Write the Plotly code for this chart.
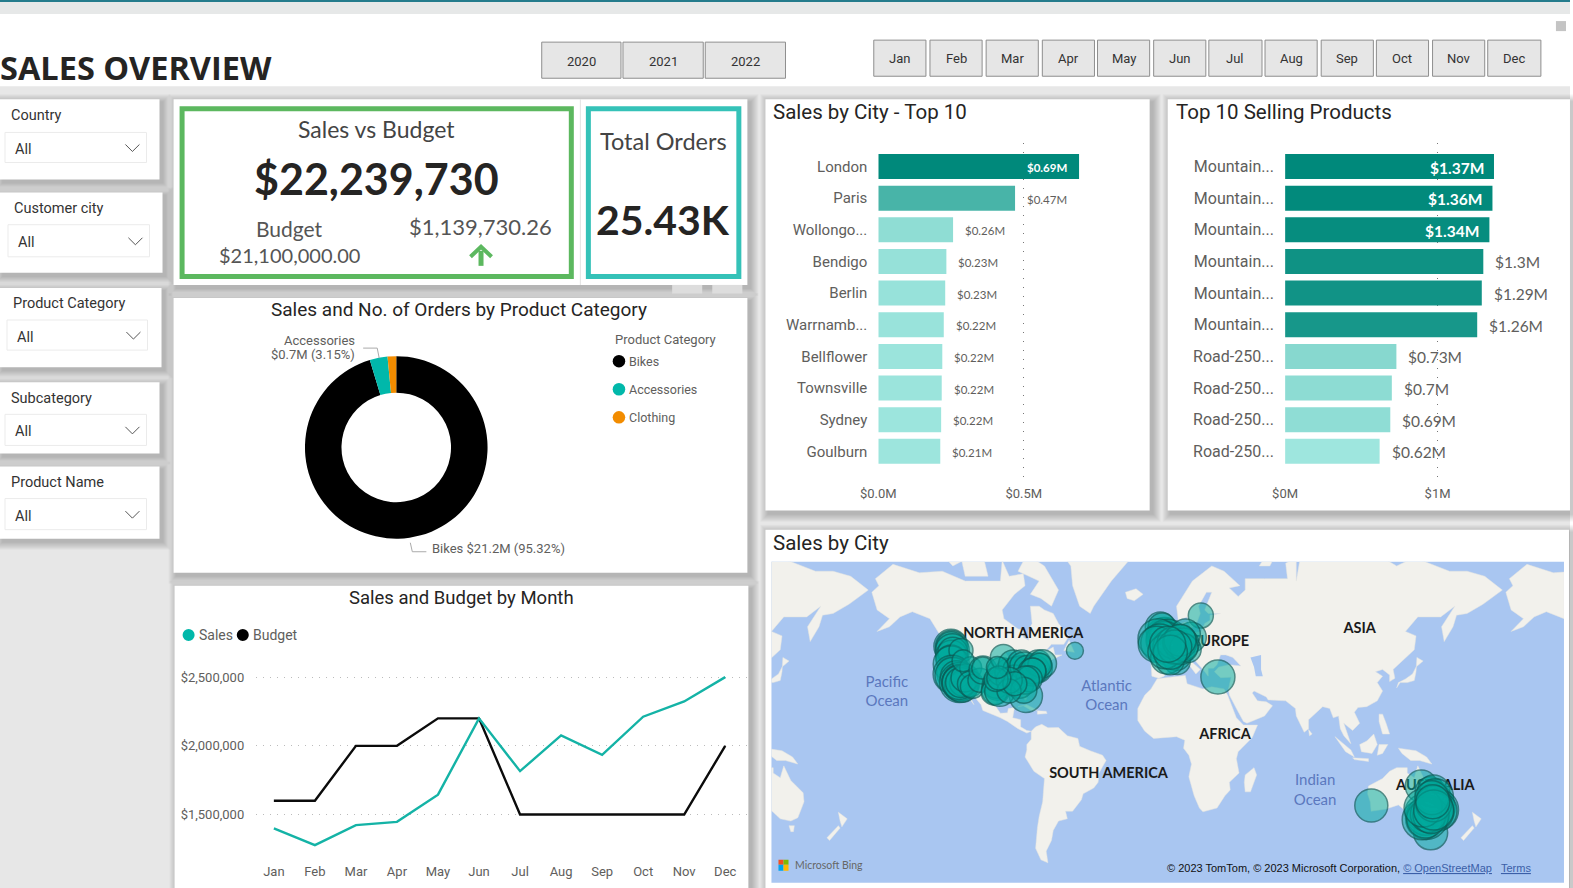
import numpy as np
import plotly.graph_objects as go

W, H = 1573, 888
K = 1573 / 1568

# data
years = ["2020", "2021", "2022"]
months = ["Jan", "Feb", "Mar", "Apr", "May", "Jun", "Jul", "Aug", "Sep", "Oct", "Nov", "Dec"]
slicers = ["Country", "Customer city", "Product Category", "Subcategory", "Product Name"]

city_names = ["London", "Paris", "Wollongo...", "Bendigo", "Berlin", "Warrnamb...", "Bellflower", "Townsville", "Sydney", "Goulburn"]
city_sales = [0.69, 0.47, 0.257, 0.234, 0.23, 0.225, 0.22, 0.218, 0.216, 0.213]
city_labels = ["$0.69M", "$0.47M", "$0.26M", "$0.23M", "$0.23M", "$0.22M", "$0.22M", "$0.22M", "$0.22M", "$0.21M"]

product_names = ["Mountain..."] * 6 + ["Road-250..."] * 4
product_sales = [1.37, 1.36, 1.34, 1.30, 1.29, 1.26, 0.73, 0.70, 0.69, 0.62]
product_labels = ["$1.37M", "$1.36M", "$1.34M", "$1.3M", "$1.29M", "$1.26M", "$0.73M", "$0.7M", "$0.69M", "$0.62M"]

category_names = ["Bikes", "Accessories", "Clothing"]
category_sales = [21.2, 0.7, 0.34]

sales_month = [1.40e6, 1.278e6, 1.423e6, 1.447e6, 1.645e6, 2.2e6, 1.816e6, 2.076e6, 1.934e6, 2.212e6, 2.323e6, 2.5e6]
budget_month = [1.6e6, 1.6e6, 2.0e6, 2.0e6, 2.2e6, 2.2e6, 1.5e6, 1.5e6, 1.5e6, 1.5e6, 1.5e6, 2.0e6]

# map bubbles: lon, lat, weight
map_lon = [28.5, 18.8, -52.7, 115.6, 149.3, -80.5, 144.0,
           -123.1, -122.8, -122.9, -122.3, -122.7, -122.0, -123.0, -122.9, -117.4, -121.5, -122.4, -121.9, -120.0, -119.0,
           -119.7, -118.2, -118.1, -117.9, -117.1, -116.5, -118.4, -117.6, -115.1, -111.9, -112.0, -110.9, -116.2, -106.6, -104.9,
           -105.0, -96.8, -97.3, -97.7, -98.5, -95.4, -94.6, -90.2, -93.3, -87.6, -86.2, -83.0, -83.1, -84.4, -86.8, -81.7,
           -80.0, -75.2, -74.0, -73.8, -71.1, -72.7, -77.0, -76.6, -78.6, -80.8, -81.7, -90.0, -90.1, -86.8, -97.5, -95.9, -96.7,
           -3.0, -2.2, -1.5, -4.2, -3.2, -1.9, -3.2, -0.1, 1.0, -1.5, -5.5, -4.5, -6.5, 2.35, 5.4, 4.8, -0.6, 1.4, -1.6, 7.3, 3.1, 13.4, 10.0, 11.6, 8.7, 6.9, 9.2, 7.0, 4.0, 1.5, 0.0,
           149.0, 150.5, 151.5, 152.5, 153.0, 151.0, 145.0, 152.0, 153.2, 152.9, 151.7, 147.0, 146.3, 144.5, 146.4, 148.0, 149.5, 145.0, 151.0, 150.0, 151.0, 150.5]
map_lat = [36.6, 59.4, 47.6, -31.8, -44.0, 27.5, -22.0,
           49.3, 49.2, 49.1, 47.6, 45.5, 47.0, 44.0, 42.3, 47.7, 38.5, 37.8, 37.3, 36.7, 35.4,
           34.4, 34.0, 33.9, 33.8, 32.7, 33.8, 34.1, 34.1, 36.2, 40.7, 33.4, 32.2, 43.6, 35.1, 39.7,
           40.6, 32.8, 32.7, 30.3, 29.4, 29.8, 39.1, 38.6, 45.0, 41.9, 39.8, 40.0, 42.3, 33.7, 36.2, 41.5,
           40.4, 40.0, 40.7, 42.7, 42.4, 41.8, 38.9, 39.3, 35.8, 35.2, 30.3, 35.1, 30.0, 33.5, 35.5, 36.1, 40.8,
           53.5, 53.5, 53.8, 55.9, 55.9, 52.5, 51.5, 51.5, 51.0, 52.4, 52.0, 50.5, 50.0, 48.86, 43.3, 45.8, 44.8, 43.6, 47.2, 47.7, 50.6, 52.5, 53.6, 48.1, 50.1, 50.9, 48.8, 51.5, 49.0, 47.0, 50.0,
           -25.0, -27.0, -29.0, -31.0, -33.0, -24.5, -35.0, -27.5, -33.9, -34.4, -34.8, -37.8, -36.8, -38.4, -38.1, -36.0, -36.5, -33.0, -31.0, -28.0, -34.0, -30.0]
map_weight = [34, 25, 17, 33, 34, 33, 32,
              34, 32, 30, 34, 32, 30, 30, 36, 24, 34, 38, 36, 32, 30,
              28, 40, 36, 36, 34, 26, 34, 30, 28, 22, 26, 24, 22, 24, 28,
              22, 30, 26, 28, 26, 30, 28, 28, 26, 30, 26, 28, 28, 30, 26, 28,
              26, 28, 30, 26, 28, 24, 28, 26, 26, 28, 26, 26, 24, 24, 24, 24, 22,
              32, 34, 32, 30, 28, 34, 32, 42, 30, 32, 40, 38, 36, 38, 26, 30, 32, 28, 34, 28, 32, 30, 30, 26, 32, 34, 28, 32, 34, 34, 36,
              30, 32, 34, 36, 36, 32, 36, 36, 42, 40, 38, 42, 38, 40, 38, 36, 36, 38, 36, 34, 40, 34]

map_text = ["NORTH AMERICA", "EUROPE", "ASIA", "AFRICA", "SOUTH AMERICA", "AUSTRALIA"]
map_text_lon = [-82, 30, 109, 32.5, -33.6, 152]
map_text_lat = [53.6, 50.8, 55.3, 6.2, -15.8, -22.4]
ocean_text = ["Pacific<br>Ocean", "Atlantic<br>Ocean", "Indian<br>Ocean"]
ocean_text_lon = [-159.5, -34.7, 83.7]
ocean_text_lat = [29, 27, -24.6]

# coarse coastlines, lon/lat
land = [
    [(-168,65.5),(-164,67),(-166,68.5),(-156,71.3),(-141,69.7),(-128,70),(-115,68),(-108,68),(-95,68),(-94,72),(-90,69),(-82,69.5),(-81,67),(-87,65),(-94,61),(-93,58.5),(-85,55.3),(-82,55),(-82,52.5),(-79,51.5),(-79,55),(-77,57),(-78,62),(-73,62),(-70,61),(-65,60),(-62,57),(-56,53),(-59,50),(-66,50),(-70,47),(-65,49),(-64,46),(-60,46),(-66,44),(-70,43.5),(-70,41.5),(-74,40.5),(-76,37),(-76,35),(-81,31.5),(-80,26),(-81,25.2),(-83,29),(-89,30),(-94,29.5),(-97.5,27),(-97.5,22),(-95,18.5),(-91,18.7),(-90.5,21),(-87,21.5),(-88,16),(-83.5,15),(-83.5,11),(-80,9),(-77.5,8.5),(-80,7.5),(-85,10),(-91,14),(-95,16),(-105,20),(-106,23),(-112,29.5),(-114.5,31),(-110,23),(-115,29),(-117.5,33),(-120.5,34.5),(-124,40),(-124.5,48),(-130,54),(-135,58.5),(-145,60.5),(-152,59),(-158,56),(-165,54.5),(-158,58.5),(-165,61)],
    [(-73,78),(-60,82),(-30,83),(-20,80),(-22,72),(-32,68),(-42,62),(-44,60),(-50,62),(-54,67),(-55,71),(-68,76)],
    [(-80,73),(-70,71),(-62,66),(-66,62),(-72,64),(-78,65),(-73,68),(-85,70)],
    [(-117,72),(-105,73),(-102,69),(-115,69)],
    [(-125,72),(-118,74),(-116,72),(-122,71)],
    [(-59,47.7),(-56,51.5),(-53,47)],
    [(-85,22),(-80,23),(-74.2,20.2),(-77.5,20),(-82,22.5)],
    [(-74,19.8),(-69,19.5),(-68.5,18.3),(-74,18)],
    [(-24,65.5),(-18,66.3),(-14,65),(-19,63.4),(-23,64)],
    [(-77.5,8.5),(-75,11),(-71.5,12.4),(-68,10.5),(-62,10.6),(-57,6),(-51,4.5),(-50,0),(-44,-2.5),(-37,-5),(-35,-8),(-39,-15),(-39.5,-20),(-42,-23),(-48,-26),(-49,-29),(-54,-34.5),(-58,-34.5),(-57,-38),(-62,-39),(-65,-43),(-66,-47),(-69,-51),(-68,-55),(-72,-54),(-75,-50),(-74,-42),(-73,-37),(-71,-30),(-70,-18),(-76,-14),(-81,-6),(-80,-2),(-80,1),(-77.5,4)],
    [(-6,35.8),(10,37.3),(11,33.5),(20,31),(25,32),(32,31),(34,28),(37,21),(39,16),(43,12),(51,12),(48,5),(40,-3),(39,-7),(40.5,-15),(35,-20),(35.5,-24),(32.5,-27),(28,-33),(20,-34.8),(18,-33),(15,-27),(12,-17),(13.5,-10),(12,-5),(9,-1),(9.7,3.5),(5,5.5),(-4,5),(-8,4.5),(-13,8.5),(-17,14.5),(-17,21),(-13,28),(-9.5,31)],
    [(49,-12),(50.5,-16),(47,-25),(44,-25),(43.5,-20),(44,-16)],
    [(-9,37),(-9.5,43),(-2,43.5),(-1,46),(-5,48.5),(1,50.5),(4,52),(8,54),(8,57),(10.5,57.5),(10,54),(14,54),(19,54.5),(21,57),(24,58),(24,59.5),(30,60),(23,60),(21,61),(25,65.5),(22,65.5),(17.5,62),(18.5,60),(16,56.5),(13,55.5),(11,59),(6,58),(5,62),(14,68),(25,71),(32,70),(41,67),(35,66.5),(40,64.5),(44,66),(44,68.5),(55,68.5),(68,68.5),(67,71.5),(73,72.5),(73,68),(75,72),(85,73),(100,76.5),(113,74),(130,71),(140,72.5),(160,70),(170,70),(180,69),(190,66),(185,64.5),(179,62.5),(170,60),(164,59.5),(162,56),(157,51),(155.5,56),(163,62),(155,59),(142,59),(135,54.5),(141,53),(140,48),(132,43),(128,40),(129,36),(126,34.5),(126,37.5),(122,40),(118,39),(122,37),(119,34),(122,30),(119,25),(113,22),(108,21.5),(106,19),(109,13),(105,9),(100,13),(103,5),(104,1.5),(100,6),(98,10),(97,17),(94,16),(92,21),(88,22),(80,15),(80,10),(77.5,8),(73,17),(72.5,21),(67,25),(57,25.5),(56,27),(49,30),(48,29),(51,25),(56,24.5),(59.5,22.5),(55,17),(45,13),(43,14),(39,21),(35,28),(34.5,31),(36,36.5),(30,36.3),(26.5,39),(29,41),(35,42),(41.5,41.5),(37,45),(33,46),(30,46),(28,42),(26,40.5),(23,40.5),(23,37),(20,40),(14,45),(12.5,44),(18.5,40),(16,38),(12,42),(8.5,44.3),(3.5,43),(0,39.5),(-2,37),(-5,36)],
    [(-5.5,50),(1.5,51.3),(1.5,53),(-2,56),(-3,58.5),(-6,58),(-5,54.5),(-3,53.5),(-5,52)],
    [(-10,52),(-6,52),(-6,55),(-9,54.5)],
    [(130,31.5),(132,34),(136,34),(140,35),(141,39),(141.5,45),(145,43.5),(141,41),(139,38),(135,35.7),(131,34)],
    [(120,18),(122,18),(124,13),(126,7),(122,7),(120,14)],
    [(109,1),(113,3),(117,7),(119,1),(116,-4),(110,-3)],
    [(95,5.5),(104,-2),(106,-6),(101,-3)],
    [(105,-6.5),(114,-7),(114,-8.5),(106,-7.5)],
    [(119,-5),(120,1),(125,1),(122,-4)],
    [(131,-1),(141,-2.5),(147,-6),(150,-10),(143,-8),(138,-8),(133,-4)],
    [(80,9.5),(82,7),(80.5,6)],
    [(114,-22),(122,-18),(126,-14),(130,-12),(136,-12),(136,-15),(140,-17.5),(142,-11),(146,-19),(153,-25.5),(153.5,-30),(150,-37.5),(146,-39),(140,-38),(136,-35),(131,-31.5),(124,-33.5),(115.5,-34.5),(115,-30),(113.5,-26)],
    [(145,-41),(148,-41),(147.5,-43.5),(146,-43.5)],
    [(173,-35),(178,-38),(175,-41.5),(174,-39)],
    [(173,-41),(174,-42),(168,-47),(166.5,-46)],
    [(52,71),(56,73),(68,76.5),(58,71)],
]
water = [
    [(47,45),(53,46),(53,40),(54,37),(50,37),(49,41)],
    [(-92,47),(-85,47),(-80,43),(-84,42),(-88,42)],
]

TEAL = "#01B8AA"
DARK = "#252423"
GREY = "#605E5C"
BG = "#E7E7E7"
FONT_T = "Roboto, Noto Sans, sans-serif"
FONT_C = "Lato, Open Sans, sans-serif"
FONT_B = "Open Sans, Noto Sans, sans-serif"


def px(x):
    return x * K / W


def py(y):
    return 1 - y * K / H


def merc(lat):
    return np.log(np.tan(np.pi / 4 + np.radians(np.asarray(lat, dtype=float)) / 2))


shapes = []
notes = []


def rect(x0, y0, x1, y1, fill, line=None, lw=0, layer="below", opacity=1):
    shapes.append(dict(type="rect", xref="paper", yref="paper", x0=px(x0), x1=px(x1), y0=py(y0), y1=py(y1),
                       fillcolor=fill, line=dict(color=line or "rgba(0,0,0,0)", width=lw), layer=layer, opacity=opacity))


def path(points, color, lw=1, fill=None, close=False, layer="above"):
    d = "M" + " L".join(f"{px(a):.5f},{py(b):.5f}" for a, b in points) + (" Z" if close else "")
    shapes.append(dict(type="path", xref="paper", yref="paper", path=d, layer=layer,
                       line=dict(color=color, width=lw), fillcolor=fill or "rgba(0,0,0,0)"))


def dot(x, y, d, color):
    shapes.append(dict(type="circle", xref="paper", yref="paper", x0=px(x - d / 2), x1=px(x + d / 2),
                       y0=py(y + d / 2), y1=py(y - d / 2), fillcolor=color, line=dict(width=0), layer="above"))


def txt(x, y, s, size, color=DARK, anchor="center", font=FONT_T):
    notes.append(dict(x=px(x), y=py(y), xref="paper", yref="paper", text=s, showarrow=False, xanchor=anchor,
                      yanchor="middle", font=dict(size=size, color=color, family=font)))


def panel(x0, y0, x1, y1):
    for i in range(8, 0, -1):
        rect(x0 - i + 3, y0 - i + 3, x1 + i + 3, y1 + i + 3, "#000000", opacity=0.028)
    rect(x0, y0, x1, y1, "white")


# page
EDGE = 1565
rect(0, 0, EDGE, H, BG)
rect(0, 0, EDGE, 2, "#247C8C")
rect(0, 2, EDGE, 14, "#E6E8E8")
rect(0, 14, EDGE, 86, "white")
rect(1551, 21, 1561, 31, "#C4C4C4")
txt(-2, 67, "<b>SALES OVERVIEW</b>", 32.5, DARK, "left", FONT_B)

year_x = [(540, 619), (621, 701), (703, 783)]
month_x = [(871, 923), (927, 979), (983, 1035), (1039, 1091), (1094, 1146), (1150, 1202),
           (1205, 1258), (1261, 1313), (1317, 1369), (1372, 1424), (1428, 1480), (1483, 1536)]
for (a, b), s in zip(year_x, years):
    rect(a, 42, b, 78, "#E6E6E6", "#8E8E8E", 1)
    txt((a + b) / 2, 61, s, 13, "#333333")
for (a, b), s in zip(month_x, months):
    rect(a, 40, b, 76, "#E6E6E6", "#8E8E8E", 1)
    txt((a + b) / 2, 58, s, 13, "#333333")

# slicers
slicer_box = [(0, 99, 159, 179, 5, 132, 146, 162), (0, 192, 162, 272, 8, 224, 149, 256),
              (0, 287, 161, 366, 7, 319, 147, 349), (0, 381, 159, 452, 5, 413, 146, 444),
              (0, 465, 159, 537, 5, 497, 146, 528)]
for (x0, y0, x1, y1, bx0, by0, bx1, by1), s in zip(slicer_box, slicers):
    panel(x0, y0, x1, y1)
    rect(bx0, by0, bx1, by1, "white", "#EBEBEB", 1)
    txt(bx0 + 4, y0 + 16, s, 14.5, "#333333", "left")
    txt(bx0 + 8, (by0 + by1) / 2 + 2, "All", 14.5, "#333333", "left")
    path([(bx1 - 21, (by0 + by1) / 2 - 3), (bx1 - 14, (by0 + by1) / 2 + 4), (bx1 - 7, (by0 + by1) / 2 - 3)], "#555555", 1)

# cards
panel(173, 99, 745, 284)
rect(578, 99, 579, 284, "#E2E2E2")
rect(181.5, 108.5, 569.5, 275.5, "white", "#5CB85F", 5)
rect(586.5, 108.5, 736.5, 275.5, "white", "#35C2B8", 5)
txt(375, 129, "Sales vs Budget", 23, "#444444", font=FONT_C)
txt(375, 178, "<b>$22,239,730</b>", 43, DARK, font=FONT_C)
txt(289, 228, "Budget", 21, "#555555", font=FONT_C)
txt(289, 254, "$21,100,000.00", 20, "#555555", font=FONT_C)
txt(479, 226, "$1,139,730.26", 22, "#555555", font=FONT_C)
txt(661, 141, "Total Orders", 23.5, "#444444", font=FONT_C)
txt(661, 219, "<b>25.43K</b>", 41, DARK, font=FONT_C)
path([(479.5, 265), (479.5, 250)], "#5CB85F", 5)
path([(469, 256), (479.5, 246), (490, 256)], "#5CB85F", 4)
rect(670, 284, 700, 293, "#DDDDDD")
rect(710, 284, 740, 293, "#DDDDDD")

# donut panel
panel(173, 297, 745, 571)
txt(458, 309, "Sales and No. of Orders by Product Category", 19, DARK)
txt(356, 339, "Accessories", 13, GREY, "right")
txt(356, 353, "$0.7M (3.15%)", 13, GREY, "right")
txt(429, 547, "Bikes $21.2M (95.32%)", 13, GREY, "left")
path([(362, 347), (376, 347), (378, 357)], "#AAAAAA", 1)
path([(409, 541), (411, 550), (425, 550)], "#AAAAAA", 1)
txt(611, 338, "Product Category", 13, GREY, "left")
for yy, name, col in zip([360, 388, 416], category_names, ["#000000", TEAL, "#F28C00"]):
    dot(617, yy, 12.5, col)
    txt(625, yy, name, 12.5, GREY, "left")

# line panel
panel(174, 584, 746, H + 20)
txt(460, 596, "Sales and Budget by Month", 18.5, DARK)
dot(188, 633, 12, TEAL)
txt(196, 633, "Sales", 14, GREY, "left")
dot(242, 633, 12, "#000000")
txt(250, 633, "Budget", 14, GREY, "left")

# bar panels
panel(763, 99, 1146, 509)
panel(1164, 99, 1565, 509)
txt(769, 112, "Sales by City - Top 10", 20.5, DARK, "left")
txt(1170, 112, "Top 10 Selling Products", 20.5, DARK, "left")

# map panel
panel(763, 528, 1564, H + 20)
txt(769, 541, "Sales by City", 20.5, DARK, "left")

fig = go.Figure()

# pie
fig.add_trace(go.Pie(labels=category_names, values=category_sales, hole=0.6, sort=False, direction="clockwise", rotation=0,
                     textinfo="none", showlegend=False, marker=dict(colors=["#000000", TEAL, "#F28C00"], line=dict(width=0)),
                     domain=dict(x=[px(304), px(486)], y=[py(537), py(355)])))

# line chart
fig.add_trace(go.Scatter(x=months, y=budget_month, mode="lines", line=dict(color="#0B0B0B", width=2.4), showlegend=False, xaxis="x", yaxis="y"))
fig.add_trace(go.Scatter(x=months, y=sales_month, mode="lines", line=dict(color="#14B3A6", width=2.4), showlegend=False, xaxis="x", yaxis="y"))

# bars
scale = [[0, "#9EE6DE"], [1, "#00897B"]]
fig.add_trace(go.Bar(y=city_names, x=city_sales, orientation="h", width=0.79, showlegend=False, xaxis="x2", yaxis="y2",
                     marker=dict(color=city_sales, colorscale=scale, cmin=0.21, cmax=0.69, line=dict(width=0))))
product_pos = list(range(len(product_names)))
fig.add_trace(go.Bar(y=product_pos, x=product_sales, orientation="h", width=0.79, showlegend=False, xaxis="x3", yaxis="y3",
                     marker=dict(color=product_sales, colorscale=scale, cmin=0.62, cmax=1.37, line=dict(width=0))))

for i, (v, s) in enumerate(zip(city_sales, city_labels)):
    inside = v > 0.6
    notes.append(dict(x=v, y=city_names[i], xref="x2", yref="y2", text=f"<b>{s}</b>" if inside else s, showarrow=False,
                      xanchor="right" if inside else "left", xshift=-10 if inside else 10, yshift=-1,
                      font=dict(size=11.5, color="white" if inside else GREY, family=FONT_C)))
for i, (v, s) in enumerate(zip(product_sales, product_labels)):
    inside = v > 1.33
    notes.append(dict(x=v, y=i, xref="x3", yref="y3", text=f"<b>{s}</b>" if inside else s, showarrow=False,
                      xanchor="right" if inside else "left", xshift=-8 if inside else 10, yshift=-1,
                      font=dict(size=15.5, color="white" if inside else GREY, family=FONT_C)))

# map
lx, ly = [], []
for off in (-360, 0, 360):
    for poly in land:
        pts = poly + poly[:1]
        lx += [p[0] + off for p in pts] + [None]
        ly += [float(merc(p[1])) for p in pts] + [None]
fig.add_trace(go.Scatter(x=lx, y=ly, mode="lines", fill="toself", fillcolor="#F2F1EC", line=dict(width=0.5, color="#E4E4E0"),
                         hoverinfo="skip", showlegend=False, xaxis="x4", yaxis="y4"))
wx, wy = [], []
for poly in water:
    pts = poly + poly[:1]
    wx += [p[0] for p in pts] + [None]
    wy += [float(merc(p[1])) for p in pts] + [None]
fig.add_trace(go.Scatter(x=wx, y=wy, mode="lines", fill="toself", fillcolor="#A9C6F1", line=dict(width=0),
                         hoverinfo="skip", showlegend=False, xaxis="x4", yaxis="y4"))
fig.add_trace(go.Scatter(x=map_text_lon, y=merc(map_text_lat), mode="text", text=map_text, showlegend=False, xaxis="x4", yaxis="y4",
                         textfont=dict(size=14.5, color="#1A1A1A", family="Lato, Roboto, sans-serif", weight="bold")))
fig.add_trace(go.Scatter(x=ocean_text_lon, y=merc(ocean_text_lat), mode="text", text=ocean_text, showlegend=False, xaxis="x4", yaxis="y4",
                         textfont=dict(size=15, color="#5B78BE", family="Lato, Roboto, sans-serif")))
fig.add_trace(go.Scatter(x=map_lon, y=merc(map_lat), mode="markers", showlegend=False, xaxis="x4", yaxis="y4",
                         marker=dict(size=map_weight, color="rgba(1,170,156,0.74)", line=dict(color="#0B5F59", width=1.5))))

rect(776, 857, 781, 862, "#F25022", layer="above")
rect(781, 857, 786, 862, "#7FBA00", layer="above")
rect(776, 862, 781, 868, "#00A4EF", layer="above")
rect(781, 862, 786, 868, "#FFB900", layer="above")
txt(790, 862, "Microsoft Bing", 10.5, "#666666", "left", "Lato, Roboto")
txt(1528, 865, '© 2023 TomTom, © 2023 Microsoft Corporation, <span style="color:#3B5FA8"><u>© OpenStreetMap</u>   <u>Terms</u></span>',
    11, "#111111", "right", "Liberation Sans, Arial")

hidden = dict(visible=False, fixedrange=True, automargin=False)
fig.update_layout(
    template="none",
    width=W, height=H, margin=dict(l=0, r=0, t=0, b=0, pad=0), paper_bgcolor="white", plot_bgcolor="rgba(0,0,0,0)",
    showlegend=False, autosize=False, bargap=0.2, annotations=notes,
    font=dict(family=FONT_T, color=GREY),
    xaxis=dict(domain=[px(255), px(745)], range=[-0.44, 11.54], showgrid=False, zeroline=False, showline=False, ticks="outside", automargin=False,
               ticklen=7, tickcolor="rgba(0,0,0,0)", tickfont=dict(size=13, color=GREY), anchor="y"),
    yaxis=dict(domain=[py(850), py(660)], range=[1222600, 2609000], tickvals=[1500000, 2000000, 2500000], automargin=False,
               ticktext=["$1,500,000", "$2,000,000", "$2,500,000"], showgrid=True, griddash="1px,6px", gridcolor="#BBBBBB",
               zeroline=False, showline=False, ticks="outside", ticklen=8, tickcolor="rgba(0,0,0,0)", tickfont=dict(size=13, color=GREY), anchor="x"),
    xaxis2=dict(domain=[px(875.5), px(1100)], range=[0, 0.774], tickvals=[0, 0.5], ticktext=["$0.0M", "$0.5M"], showgrid=True, automargin=False,
                griddash="1px,8px", gridcolor="#777777", zeroline=False, showline=False, ticks="outside", ticklen=3, tickcolor="rgba(0,0,0,0)",
                tickfont=dict(size=13, color=GREY), anchor="y2"),
    yaxis2=dict(domain=[py(477), py(143)], range=[9.86, -0.73], type="category", categoryorder="array", categoryarray=city_names, showgrid=False, automargin=False,
                zeroline=False, showline=False, ticks="outside", ticklen=7, tickcolor="rgba(0,0,0,0)", tickfont=dict(size=15, color=GREY), anchor="x2"),
    xaxis3=dict(domain=[px(1281), px(1540)], range=[0, 1.704], tickvals=[0, 1], ticktext=["$0M", "$1M"], showgrid=True, automargin=False,
                griddash="1px,8px", gridcolor="#777777", zeroline=False, showline=False, ticks="outside", ticklen=3, tickcolor="rgba(0,0,0,0)",
                tickfont=dict(size=13, color=GREY), anchor="y3"),
    yaxis3=dict(domain=[py(477), py(143)], range=[9.86, -0.73], tickvals=product_pos, ticktext=product_names, showgrid=False, automargin=False,
                zeroline=False, showline=False, ticks="outside", ticklen=7, tickcolor="rgba(0,0,0,0)", tickfont=dict(size=16, color=GREY), anchor="x3"),
    xaxis4=dict(domain=[px(769), px(1559)], range=[-225, 225], anchor="y4", **hidden),
    yaxis4=dict(domain=[py(880), py(560)], range=[-1.352, 1.829], anchor="x4", **hidden),
)
rect(769, 560, 1559, 880, "#A9C6F1")
fig.layout.shapes = shapes
fig.write_html("out.html", config={"displayModeBar": False},
               post_script="document.body.style.margin='0';document.body.style.overflow='hidden';")
